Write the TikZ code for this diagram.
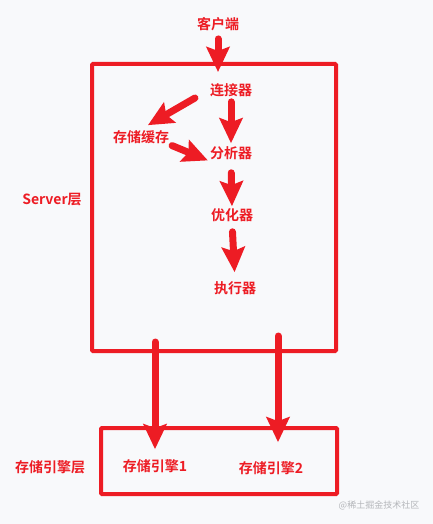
\documentclass[tikz,border=0pt]{standalone}
\usepackage{fontspec}
\setmainfont{Noto Sans CJK SC}[BoldFont={Noto Sans CJK SC Bold}]
\usetikzlibrary{arrows.meta}
\definecolor{arrowred}{HTML}{ED1C24}
\definecolor{pagebg}{HTML}{F8F9FB}
\definecolor{stampgray}{HTML}{B4B6BA}

\begin{document}
\begin{tikzpicture}
[
    x=1pt, y=-1pt,
    redtext/.style={text=arrowred, font=\bfseries\fontsize{14}{14}\selectfont, inner sep=1pt},
    frame/.style={draw=arrowred, line width=4pt, rounded corners=1pt},
    flow/.style={draw=arrowred, line width=7pt, line cap=round,
        -{Stealth[width=23pt,length=25pt,inset=4pt]}},
    stamp/.style={text=stampgray, font=\fontsize{9}{9}\selectfont, inner sep=0pt},
]
\fill[pagebg] (0,0) rectangle (433,524);
\useasboundingbox (0,0) rectangle (433,524);

\draw[frame] (92,64) rectangle (336,351);
\draw[frame] (101,428) rectangle (337,494);

\node[redtext] (client) at (218,24) {客户端};
\node[redtext] (conn) at (231,90) {连接器};
\node[redtext] (cache) at (141,137) {存储缓存};
\node[redtext] (ana) at (231,153) {分析器};
\node[redtext] (opt) at (232,215) {优化器};
\node[redtext] (exec) at (235,288) {执行器};
\node[redtext] (srvlayer) at (52,200) {Server层};
\node[redtext] (se1) at (155,466) {存储引擎1};
\node[redtext] (se2) at (271,468) {存储引擎2};
\node[redtext] (selayer) at (50,467) {存储引擎层};
\node[stamp] (wm) at (379,505) {@稀土掘金技术社区};

\coordinate (inlet) at (218,72);
\coordinate (out1) at (155,342);
\coordinate (out2) at (278,336);

\draw[flow, shorten <=7pt] (client) -- (inlet);
\draw[flow, shorten <=4pt, shorten >=2pt] (conn.south) -- (ana.north);
\draw[flow, shorten <=16pt, shorten >=8pt] (conn.west) -- (cache.north);
\draw[flow, shorten <=2pt, shorten >=1pt] (cache.south east) -- (ana.south west);
\draw[flow, shorten <=12pt, shorten >=1pt] (ana.south) -- (opt.north);
\draw[flow, shorten <=9pt, shorten >=8pt] (opt.south) -- (exec.north);
\draw[flow, shorten >=9pt] (out1) -- (se1.north);
\draw[flow, shorten >=18pt] (out2) -- (out2 |- se2.north);
\end{tikzpicture}
\end{document}
